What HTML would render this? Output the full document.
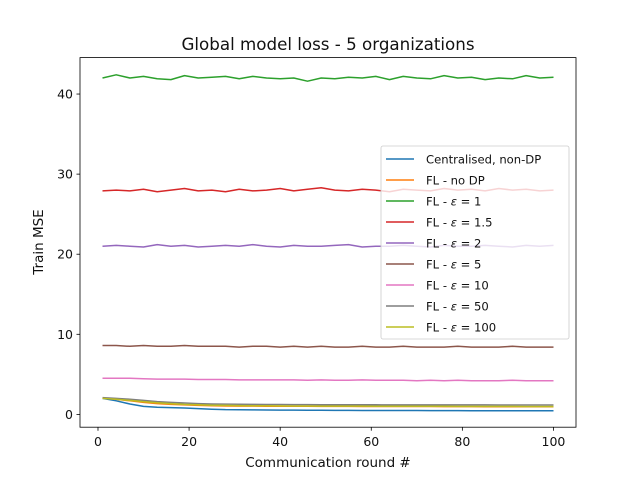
<!DOCTYPE html>
<html><head><meta charset="utf-8"><style>
body{margin:0;background:#fff;}
svg{display:block;font-family:"DejaVu Sans","Liberation Sans",sans-serif;}
</style></head><body>
<svg id="chart" width="640" height="480">
<rect width="640" height="480" fill="#fff"/>
<text x="328" y="50" text-anchor="middle" font-size="16.7" fill="#111">Global model loss - 5 organizations</text>
<g id="marks"></g>
<rect x="80" y="57.6" width="496" height="369.6" fill="none" stroke="#000" stroke-width="0.8"/>
<g id="axes"></g>
<text x="328" y="467" text-anchor="middle" font-size="13.5" fill="#111">Communication round #</text>
<text transform="translate(43,242) rotate(-90)" text-anchor="middle" font-size="13.5" fill="#111">Train MSE</text>
<g id="legend"></g>
</svg>
<script>
const rounds = [1,4,7,10,13,16,19,22,25,28,31,34,37,40,43,46,49,52,55,58,61,64,67,70,73,76,79,82,85,88,91,94,97,100];
const seriesNames = ["Centralised, non-DP","FL - no DP","FL - \u03b5 = 1","FL - \u03b5 = 1.5","FL - \u03b5 = 2","FL - \u03b5 = 5","FL - \u03b5 = 10","FL - \u03b5 = 50","FL - \u03b5 = 100"];
const centralised = [2.0,1.7,1.3,1.0,0.9,0.85,0.8,0.72,0.65,0.6,0.58,0.56,0.55,0.54,0.53,0.52,0.51,0.5,0.5,0.49,0.49,0.48,0.48,0.48,0.47,0.47,0.47,0.46,0.46,0.46,0.46,0.45,0.45,0.45];
const flNoDp = [2.05,1.9,1.7,1.5,1.35,1.25,1.18,1.12,1.08,1.05,1.04,1.03,1.02,1.02,1.01,1.01,1.0,1.0,1.0,0.99,0.99,0.99,0.98,0.98,0.98,0.97,0.97,0.97,0.96,0.96,0.96,0.96,0.95,0.95];
const eps1 = [42.0,42.4,42.0,42.2,41.9,41.8,42.3,42.0,42.1,42.2,41.9,42.2,42.0,41.9,42.0,41.6,42.0,41.9,42.1,42.0,42.2,41.8,42.2,42.0,41.9,42.3,42.0,42.1,41.8,42.0,41.9,42.3,42.0,42.1];
const eps15 = [27.9,28.0,27.9,28.1,27.8,28.0,28.2,27.9,28.0,27.8,28.1,27.9,28.0,28.2,27.9,28.1,28.3,28.0,27.9,28.1,28.0,27.8,28.1,28.0,27.9,28.2,28.0,28.1,27.9,28.2,28.0,28.1,27.9,28.0];
const eps2 = [21.0,21.1,21.0,20.9,21.2,21.0,21.1,20.9,21.0,21.1,21.0,21.2,21.0,20.9,21.1,21.0,21.0,21.1,21.2,20.9,21.0,21.0,21.1,21.0,20.9,21.1,21.0,21.0,21.1,21.0,20.9,21.1,21.0,21.1];
const eps5 = [8.6,8.6,8.5,8.6,8.5,8.5,8.6,8.5,8.5,8.5,8.4,8.5,8.5,8.4,8.5,8.4,8.5,8.4,8.4,8.5,8.4,8.4,8.5,8.4,8.4,8.4,8.5,8.4,8.4,8.4,8.5,8.4,8.4,8.4];
const eps10 = [4.5,4.5,4.5,4.45,4.4,4.4,4.4,4.35,4.35,4.35,4.3,4.3,4.3,4.3,4.3,4.25,4.3,4.25,4.25,4.3,4.25,4.25,4.25,4.2,4.25,4.2,4.25,4.2,4.2,4.2,4.25,4.2,4.2,4.2];
const eps50 = [2.1,2.0,1.9,1.75,1.6,1.5,1.42,1.35,1.3,1.28,1.26,1.25,1.24,1.23,1.22,1.22,1.21,1.21,1.2,1.2,1.2,1.19,1.19,1.19,1.18,1.18,1.18,1.18,1.18,1.17,1.17,1.17,1.17,1.17];
const eps100 = [2.0,1.9,1.75,1.6,1.45,1.35,1.25,1.2,1.15,1.12,1.1,1.08,1.07,1.06,1.05,1.05,1.04,1.04,1.03,1.03,1.02,1.02,1.02,1.01,1.01,1.01,1.0,1.0,1.0,1.0,1.0,0.99,0.99,0.99];
const allSeries = [centralised,flNoDp,eps1,eps15,eps2,eps5,eps10,eps50,eps100];
const colors = ["#1f77b4","#ff7f0e","#2ca02c","#d62728","#9467bd","#8c564b","#e377c2","#7f7f7f","#bcbd22"];
const xTicks = [0,20,40,60,80,100];
const yTicks = [0,10,20,30,40];

const NS="http://www.w3.org/2000/svg";
const X0=80,X1=576,Y0=427.2,Y1=57.6;
const xMin=-3.95,xMax=104.95,yMin=-1.6,yMax=44.55;
const xs=v=>X0+(v-xMin)/(xMax-xMin)*(X1-X0);
const ys=v=>Y0-(v-yMin)/(yMax-yMin)*(Y0-Y1);
function mk(tag,attrs,parent){const e=document.createElementNS(NS,tag);for(const k in attrs)e.setAttribute(k,attrs[k]);parent.appendChild(e);return e;}
const marks=document.getElementById('marks'),axes=document.getElementById('axes'),legend=document.getElementById('legend');
allSeries.forEach((s,i)=>{
  const p=mk('polyline',{points:s.map((v,j)=>xs(rounds[j]).toFixed(1)+','+ys(v).toFixed(1)).join(' '),fill:'none',stroke:colors[i],'stroke-width':1.5,'stroke-linejoin':'round'},marks);
  
  
});
xTicks.forEach(t=>{
  const x=xs(t);
  const l=mk('line',{x1:x,x2:x,y1:Y0,y2:Y0+3.5,stroke:'#000','stroke-width':0.8},axes);
  
  
  const tx=mk('text',{x:x,y:Y0+19,'text-anchor':'middle','font-size':12.5,fill:'#111'},axes);
  tx.textContent=t;
  
  
});
yTicks.forEach(t=>{
  const y=ys(t);
  const l=mk('line',{x1:X0-3.5,x2:X0,y1:y,y2:y,stroke:'#000','stroke-width':0.8},axes);
  
  
  const tx=mk('text',{x:X0-7,y:y+4.5,'text-anchor':'end','font-size':12.5,fill:'#111'},axes);
  tx.textContent=t;
  
  
});
const box=mk('rect',{x:381,y:146,width:188,height:193,rx:2,fill:'#fff','fill-opacity':0.8,stroke:'#ccc','stroke-width':0.8},legend);


seriesNames.forEach((n,i)=>{
  const y=159+i*21;
  const l=mk('line',{x1:386,x2:414,y1:y,y2:y,stroke:colors[i],'stroke-width':1.5},legend);
  
  
  const tx=mk('text',{x:426,y:y+4.5,'font-size':11.6,fill:'#111'},legend);
  const parts=n.split('\u03b5');
  tx.appendChild(document.createTextNode(parts[0]));
  if(parts.length>1){
    const ts=mk('tspan',{'font-style':'italic'},tx);
    ts.textContent='\u03b5';
    tx.appendChild(document.createTextNode(parts[1]));
  }
  
  
});
</script>
</body></html>
